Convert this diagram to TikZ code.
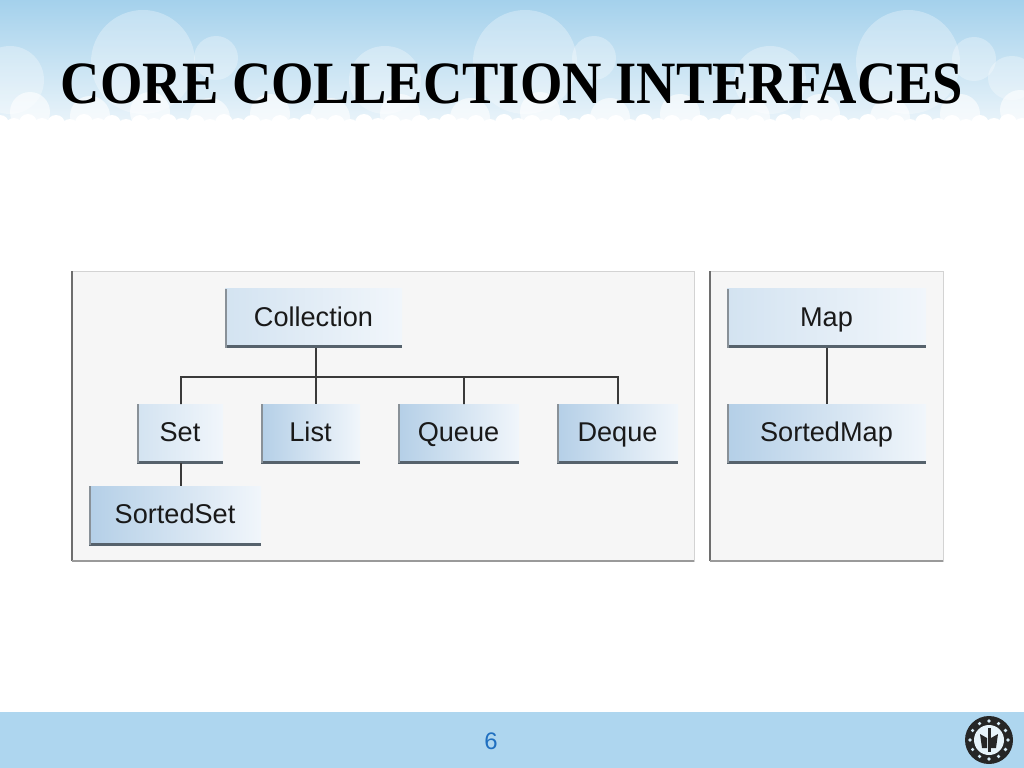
\documentclass[tikz,border=0pt]{standalone}
\usepackage{fontspec}
\setmainfont{Liberation Sans}
\newfontfamily\titlefont{Liberation Serif}
\definecolor{skytop}{HTML}{A4D1EC}
\definecolor{skylow}{HTML}{EAF4FA}
\definecolor{footband}{HTML}{AED6EF}
\definecolor{panelfill}{HTML}{F6F6F6}
\definecolor{paneledge}{HTML}{6E6E6E}
\definecolor{boxdark}{HTML}{B4CFE7}
\definecolor{boxmid}{HTML}{D3E3F1}
\definecolor{boxlight}{HTML}{F1F6FB}
\definecolor{boxline}{HTML}{56626C}
\definecolor{wirecolor}{HTML}{3A3A3A}
\definecolor{pagecolor}{HTML}{1F6FC0}
\def\pxsize{0.025cm}
\tikzset{
  iface/.style={minimum height=59*\pxsize, inner sep=0pt, outer sep=0pt, text=black!90,
    text height=14pt, text depth=2.6pt,
    font=\fontsize{19.3}{19.3}\selectfont, left color=boxdark, right color=boxlight,
    path picture={
      \draw[boxline, line width=3pt] (path picture bounding box.south west) -- (path picture bounding box.south east);
      \draw[boxline!70, line width=2.4pt] (path picture bounding box.south west) -- (path picture bounding box.north west);
    }},
  ifacepale/.style={iface, left color=boxmid},
  wire/.style={draw=wirecolor, line width=1.1pt},
  panel/.style={fill=panelfill, draw=paneledge!30, line width=0.4pt},
  cloud/.style={fill=white, fill opacity=0.3, draw=none},
}
\begin{document}
\begin{tikzpicture}[x=\pxsize, y=-\pxsize]
\useasboundingbox (0,0) rectangle (1024,768);
\fill[white] (0,0) rectangle (1024,768);

% sky with the clouds
\begin{scope}
\clip (0,0) rectangle (1024,130);
\shade[top color=skytop, bottom color=skylow] (0,0) rectangle (1024,124);
\foreach \cx/\cy/\rx/\ry in {143/62/52/52, 216/58/22/22, 10/80/34/34, 525/62/52/52, 594/58/22/22,
    385/80/36/34, 770/80/36/34, 908/62/52/52, 974/59/22/22, 1012/78/24/22} {
  \fill[cloud] (\cx,\cy) ellipse ({\rx} and {\ry});
}
\foreach \cx/\cy in {30/112, 90/116, 150/112, 210/118, 270/114, 330/118, 400/114, 470/118, 540/112, 610/118, 680/114, 750/118, 820/114, 890/118, 960/114, 1020/110} {
  \fill[white, fill opacity=0.6] (\cx,\cy) circle (20);
}
\foreach \cx/\cy in {0/124, 14/127, 28/123, 42/127, 56/124, 70/128, 84/123, 98/127, 112/124, 126/128} {
  \foreach \shiftx in {0,140,...,1020} {
    \fill[white] (\cx+\shiftx,\cy) circle (9);
  }
}
\end{scope}

% title
\node (title) at (512,84) {\scalebox{1}[1.1]{\titlefont\bfseries\fontsize{38.8}{38.8}\selectfont CORE COLLECTION INTERFACES}};

% the two panels
\draw[panel] (72,271) rectangle (694,561);
\draw[panel] (710,271) rectangle (943,561);
\draw[paneledge, line width=1pt] (72,561) -- (72,271);
\draw[paneledge, line width=1pt] (710,561) -- (710,271);
\draw[paneledge!70, line width=1pt] (72,561) -- (694,561);
\draw[paneledge!70, line width=1pt] (710,561) -- (943,561);

% left tree
\node[ifacepale, minimum width=177*\pxsize] (collection) at (313.5,318) {Collection};
\node[ifacepale, minimum width=86*\pxsize] (set) at (180,433.5) {Set};
\node[iface, minimum width=99*\pxsize] (list) at (310.5,433.5) {List};
\node[iface, minimum width=121*\pxsize] (queue) at (458.5,433.5) {Queue};
\node[iface, minimum width=121*\pxsize] (deque) at (617.5,433.5) {Deque};
\node[iface, minimum width=172*\pxsize] (sortedset) at (175,515.5) {SortedSet};

\coordinate (busleft) at (181,377);
\coordinate (busright) at (618,377);
\coordinate (busqueue) at (464,377);
\draw[wire] ([xshift=2.5*\pxsize]collection.south) -- ([xshift=5.5*\pxsize]list.north);
\draw[wire] ([xshift=1*\pxsize]set.north) -- (busleft) -- (busright) -- ([xshift=0.5*\pxsize]deque.north);
\draw[wire] (busqueue) -- ([xshift=5.5*\pxsize]queue.north);
\draw[wire] ([xshift=1*\pxsize]set.south) -- ([xshift=6*\pxsize]sortedset.north);

% right tree
\node[ifacepale, minimum width=199*\pxsize] (map) at (826.5,318) {Map};
\node[iface, minimum width=199*\pxsize] (sortedmap) at (826.5,433.5) {SortedMap};
\draw[wire] ([xshift=0.5*\pxsize]map.south) -- ([xshift=0.5*\pxsize]sortedmap.north);

% footer
\fill[footband] (0,712) rectangle (1024,768);
\node[text=pagecolor, font=\fontsize{17}{17}\selectfont] (page) at (491,741) {6};

% logo
\fill[black!85] (989,740) circle (24);
\fill[footband!30] (989,740) circle (15);
\foreach \a in {0,30,...,330} {
  \fill[footband!50] (989,740) ++(\a:19) circle (1.8);
}
\fill[black!85] (987.5,752) rectangle (990.5,728);
\fill[black!85] (982,748) -- (980,734) -- (987,738) -- (987,748) -- cycle;
\fill[black!85] (996,748) -- (998,734) -- (991,738) -- (991,748) -- cycle;
\end{tikzpicture}
\end{document}
